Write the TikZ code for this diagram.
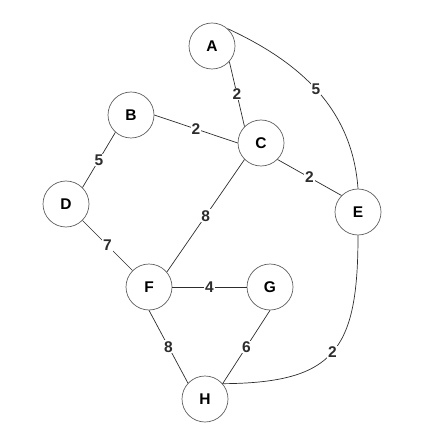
\documentclass[tikz,border=0pt]{standalone}
\usepackage{fontspec}
\setmainfont{Liberation Sans}
\usepackage{xcolor}
\definecolor{Ce}{RGB}{45,45,45}
\definecolor{Cn}{RGB}{95,95,95}

\begin{document}
\begin{tikzpicture}[x=1pt,y=-1pt,
    vtx/.style={circle,draw=Cn,line width=0.7pt,minimum size=46pt,inner sep=0pt,
      font=\fontsize{15.5}{15.5}\selectfont\bfseries},
    wlab/.style={fill=white,inner sep=0.8pt,font=\fontsize{15.5}{15.5}\selectfont\bfseries},
    edg/.style={Ce,line width=0.7pt}]
    \useasboundingbox (0,0) rectangle (437,443);
    \node[vtx] (A) at (212,46) {A};
    \node[vtx] (B) at (131,115) {B};
    \node[vtx] (C) at (261,143) {C};
    \node[vtx] (D) at (66,204) {D};
    \node[vtx] (E) at (358,212) {E};
    \node[vtx] (F) at (149,287) {F};
    \node[vtx] (G) at (270,287) {G};
    \node[vtx] (H) at (205,399) {H};
    % straight edges
    \draw[edg] (A.-42) -- node[wlab] {2} (C.135);
    \draw[edg] (B.east) -- node[wlab] {2} (C.west);
    \draw[edg] (B.228) -- node[wlab] {5} (D.45);
    \draw[edg] (C.-45) -- node[wlab] {2} (E.135);
    \draw[edg] (C.225) -- node[wlab] {8} (F.40);
    \draw[edg] (D.-45) -- node[wlab] {7} (F.135);
    \draw[edg] (F.east) -- node[wlab] {4} (G.west);
    \draw[edg] (F.south) -- node[wlab] {8} (H.137);
    \draw[edg] (G.south) -- node[wlab] {6} (H.41);
    % curved edges
    \draw[edg] (A.48) .. controls (295,60) and (352,105) .. node[wlab] {5} (E.north);
    \draw[edg] (H.41) .. controls (335,383) and (358,350) .. node[wlab] {2} (E.south);
\end{tikzpicture}
\end{document}
